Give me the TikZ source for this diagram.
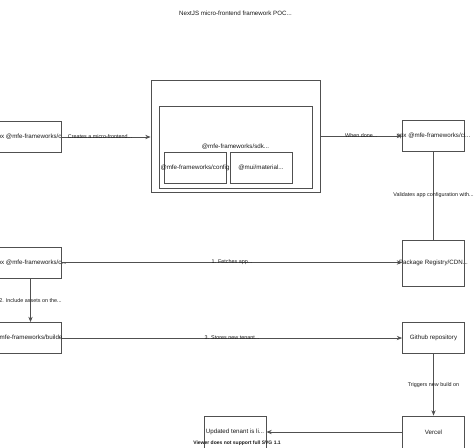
\documentclass[tikz,border=0pt]{standalone}
\usepackage{fontspec}
\setmainfont{Liberation Sans}
\usetikzlibrary{arrows.meta}
\definecolor{edgegray}{RGB}{80,80,80}
% text that may run over the box edge without widening it
\newcommand{\boxlabel}[1]{\makebox[0pt]{#1}}

\begin{document}
\begin{tikzpicture}[x=0.75pt,y=0.75pt,yscale=-1,xscale=1,
  every node/.style={font=\fontsize{4.65}{5.6}\selectfont, text=black!90, inner sep=0.75pt},
  box/.style={draw=edgegray, line width=0.6pt, minimum width=46.5pt, minimum height=23.25pt},
  link/.style={draw=edgegray, line width=0.6pt},
  tip/.style={-{Stealth[length=4pt,width=3.2pt]}},
  edgelbl/.style={font=\fontsize{4.05}{4.9}\selectfont}]
\path[use as bounding box] (0,0) rectangle (474,447);

% Text Node
\node (title) at (235.5,13) {NextJS micro-frontend framework POC...};

%Shape: Rectangle
\node[box] (npxcli) at (30.5,137) {\boxlabel{npx @mfe-frameworks/c...}};
%Shape: Rectangle
\node[box, minimum width=126.75pt, minimum height=84pt] (shell) at (235.5,136) {};
%Shape: Rectangle
\node[box, minimum width=114.75pt, minimum height=61.5pt] (sdk) at (235.5,147) {\boxlabel{@mfe-frameworks/sdk...}};
%Shape: Rectangle
\node[box] (config) at (195,167.5) {\boxlabel{@mfe-frameworks/config}};
%Shape: Rectangle
\node[box] (mui) at (261,167.5) {\boxlabel{@mui/material...}};
%Shape: Rectangle
\node[box] (npxcl) at (433.5,135.5) {\boxlabel{npx @mfe-frameworks/cl...}};
%Shape: Rectangle
\node[box, minimum height=34.5pt] (registry) at (433.5,263) {\boxlabel{Package Registry/CDN...}};
%Shape: Rectangle
\node[box] (fetcher) at (30.5,262.5) {\boxlabel{npx @mfe-frameworks/c...}};
%Shape: Rectangle
\node[box] (builder) at (30.5,338) {\boxlabel{@mfe-frameworks/builde...}};
%Shape: Rectangle
\node[box] (github) at (433.5,338) {\boxlabel{Github repository}};
%Shape: Rectangle
\node[box, minimum height=24pt] (vercel) at (433.5,432) {\boxlabel{Vercel}};
%Shape: Rectangle
\node[box, minimum height=24pt] (tenant) at (235,432) {\boxlabel{Updated tenant is li...}};

%Straight Lines
\draw[link,tip] (npxcli.east) -- (npxcli.east -| shell.west) node[edgelbl, pos=0.43] {Creates a micro-frontend...};
%Straight Lines
\draw[link,tip] (shell.east) -- (shell.east -| npxcl.west) node[edgelbl, midway] {When done...};
%Straight Lines
\draw[link] (npxcl.south) -- (registry.north) node[edgelbl, midway] {Validates app configuration with...};
%Straight Lines
\draw[link,tip] (fetcher.east) -- (fetcher.east -| registry.west) node[edgelbl, midway] {1. Fetches app...};
%Straight Lines
\draw[link,tip] (fetcher.south) -- (builder.north) node[edgelbl, midway] {2. Include assets on the...};
%Straight Lines
\draw[link,tip] (builder.east) -- (github.west) node[edgelbl, midway] {3. Stores new tenant...};
%Straight Lines
\draw[link,tip] (github.south) -- (vercel.north) node[edgelbl, midway] {Triggers new build on};
%Straight Lines
\draw[link,tip] (vercel.west) -- (tenant.east);

% Text Node
\node[font=\bfseries\fontsize{3.75}{4.5}\selectfont] (viewer) at (237,443) {Viewer does not support full SVG 1.1};

\end{tikzpicture}
\end{document}
